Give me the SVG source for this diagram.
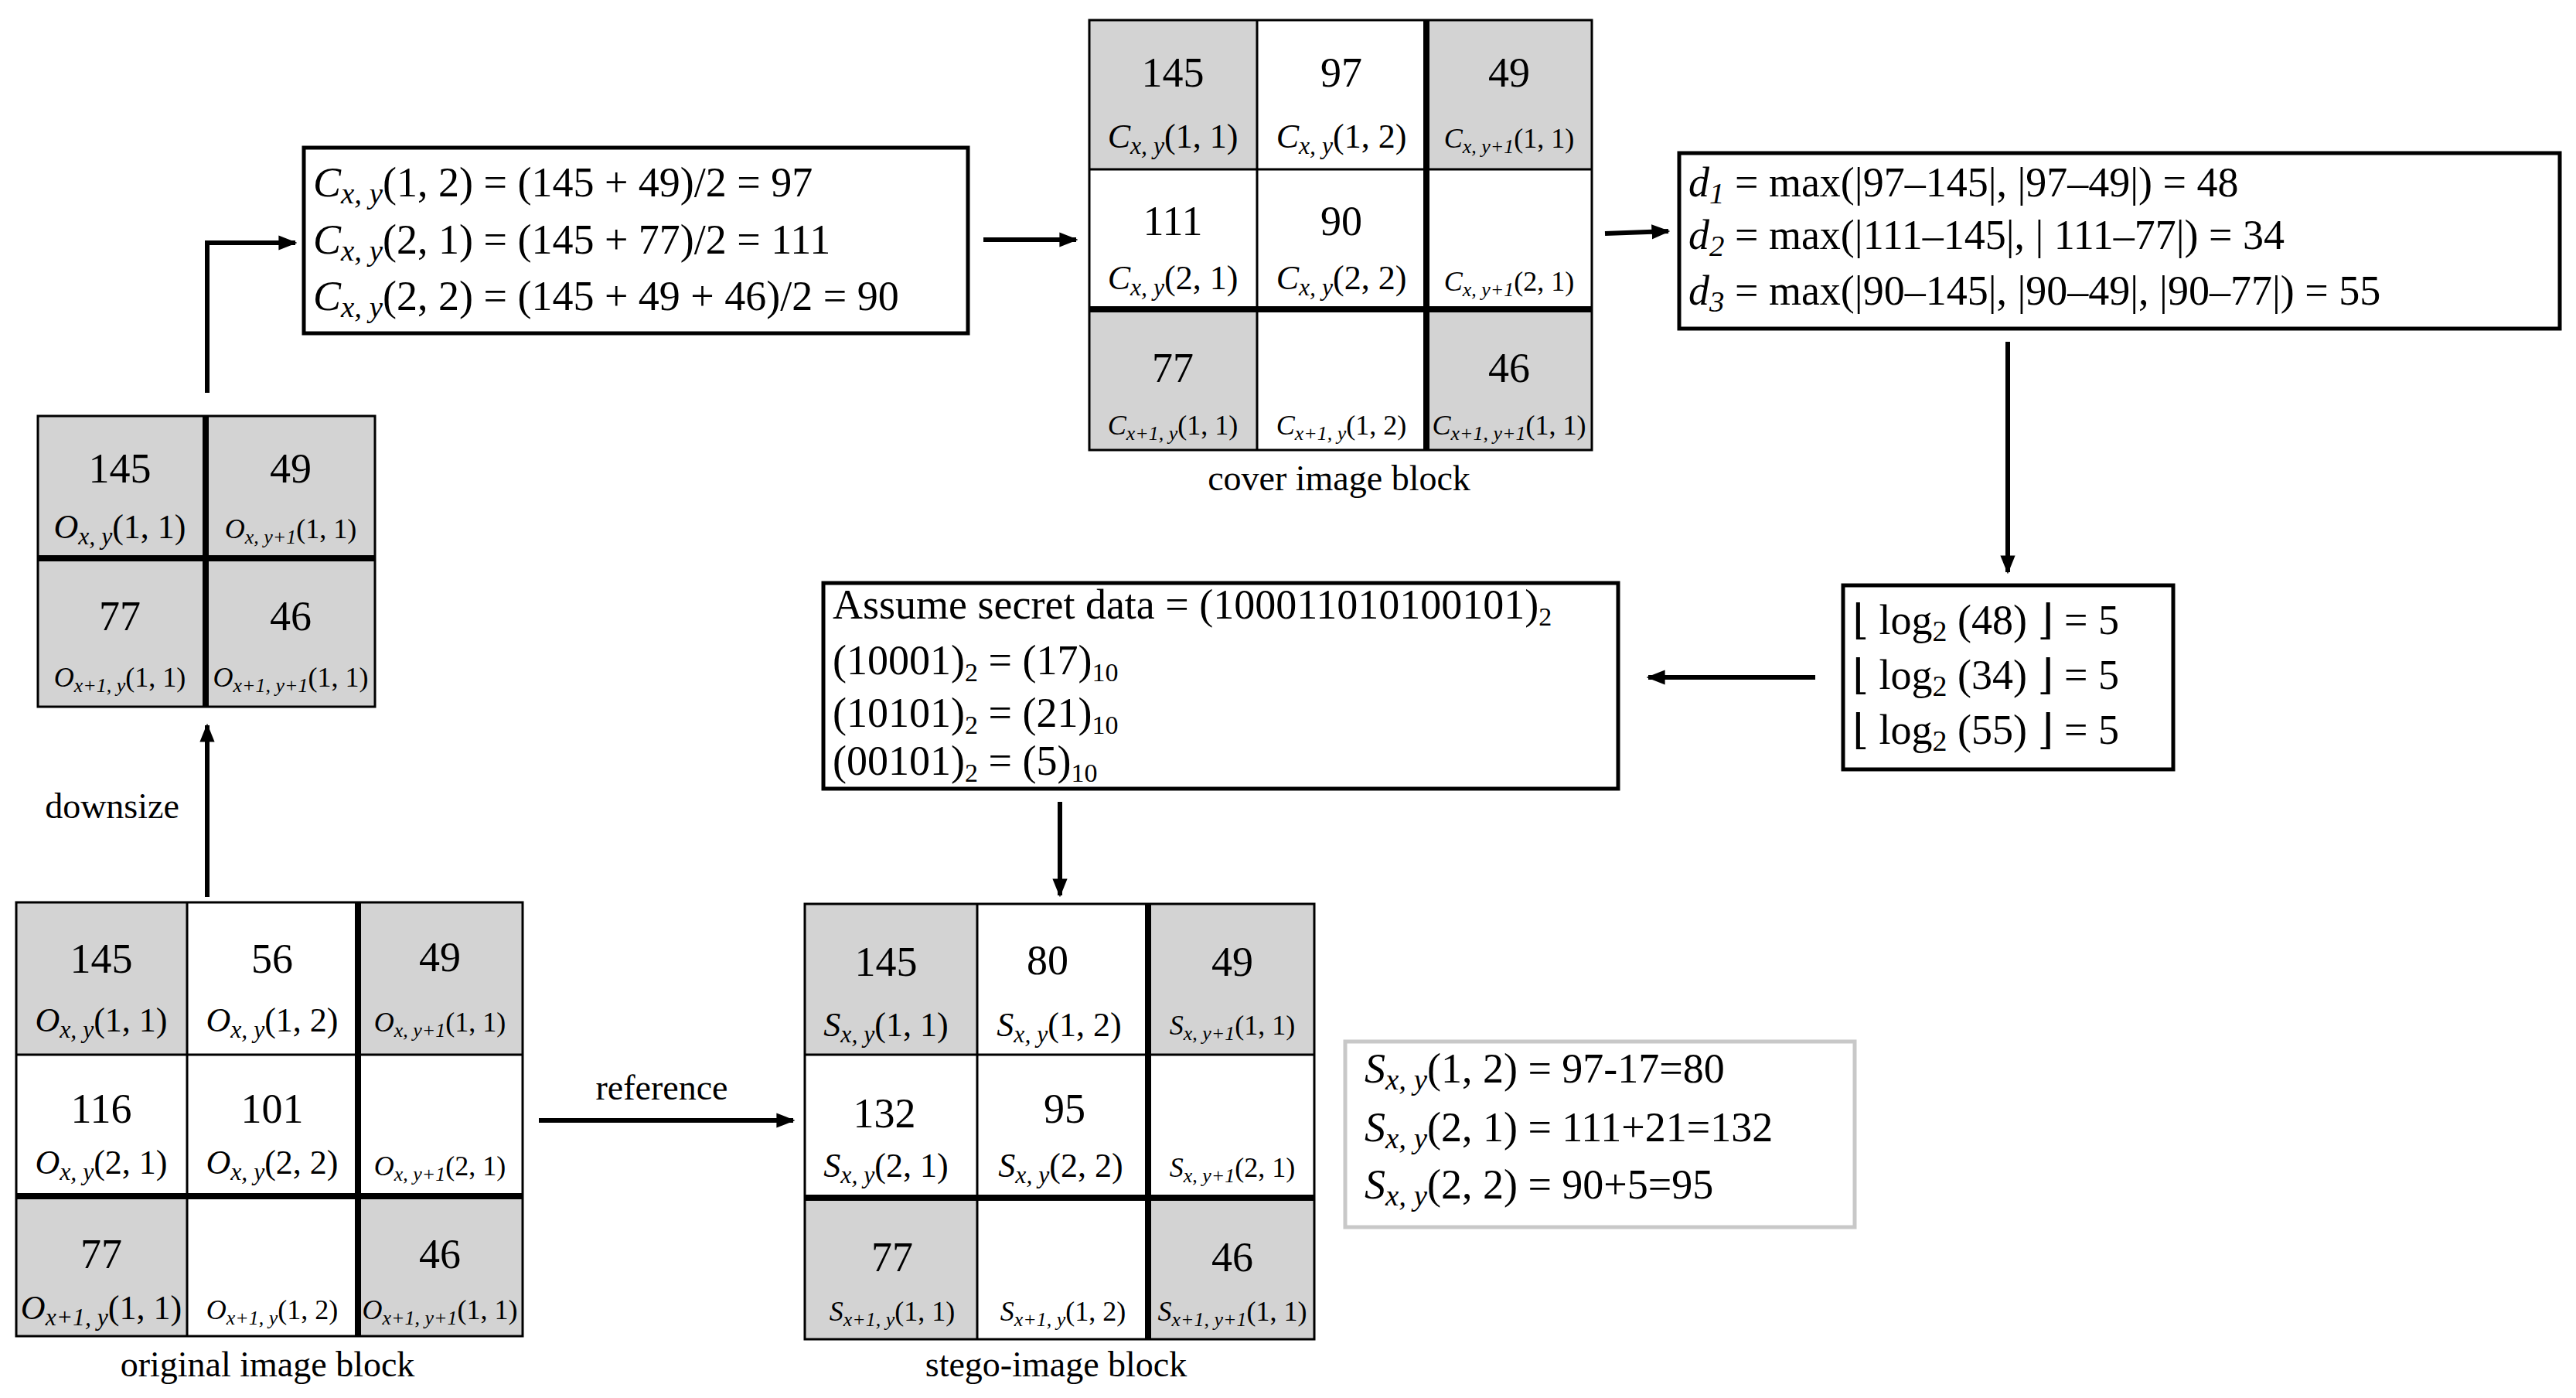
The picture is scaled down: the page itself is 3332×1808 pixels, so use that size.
<svg xmlns="http://www.w3.org/2000/svg" width="3332" height="1808" viewBox="0 0 3332 1808">
<defs>
<marker id="ah" viewBox="0 0 10 10" refX="9" refY="5" markerWidth="4" markerHeight="4" orient="auto" markerUnits="strokeWidth"><path d="M0,1 L10,5 L0,9 z" fill="#000"/></marker>
</defs>
<style>
text{font-family:"Liberation Serif","DejaVu Serif",serif;fill:#000}
.n{font-size:54px;text-anchor:middle}
.l{font-size:44px;text-anchor:middle}
.ls{font-size:36px;text-anchor:middle}
.it{font-style:italic}
.sub{font-size:0.72em;font-style:italic}
.g{fill:#d3d3d3}
.w{fill:#fff}
.thin{stroke:#000;stroke-width:3;fill:none}
.thick{stroke:#000;stroke-width:8}
.box{fill:#fff;stroke:#000;stroke-width:5}
.bt{font-size:54px}
.cap{font-size:46px;text-anchor:middle}
.ar{stroke:#000;stroke-width:6;fill:none;marker-end:url(#ah)}
</style>
<rect width="3332" height="1808" fill="#fff"/>

<g id="small-grid">
<rect x="49" y="538" width="436" height="376" class="g"/>
<rect x="49" y="538" width="436" height="376" class="thin"/>
<line x1="266" y1="538" x2="266" y2="914" class="thick"/>
<line x1="49" y1="722" x2="485" y2="722" class="thick"/>
<text class="n" x="155" y="624">145</text>
<text class="l" x="155" y="696"><tspan class="it">O</tspan><tspan class="sub" dy="8">x, y</tspan><tspan dy="-8">(1, 1)</tspan></text>
<text class="n" x="376" y="624">49</text>
<text class="ls" x="376" y="696"><tspan class="it">O</tspan><tspan class="sub" dy="7">x, y+1</tspan><tspan dy="-7">(1, 1)</tspan></text>
<text class="n" x="155" y="815">77</text>
<text class="ls" x="155" y="888"><tspan class="it">O</tspan><tspan class="sub" dy="7">x+1, y</tspan><tspan dy="-7">(1, 1)</tspan></text>
<text class="n" x="376" y="815">46</text>
<text class="ls" x="376" y="888"><tspan class="it">O</tspan><tspan class="sub" dy="7">x+1, y+1</tspan><tspan dy="-7">(1, 1)</tspan></text>
</g>

<g id="original-grid">
<rect x="21" y="1167" width="221" height="197" class="g"/>
<rect x="242" y="1167" width="221" height="197" class="w"/>
<rect x="463" y="1167" width="213" height="197" class="g"/>
<rect x="21" y="1364" width="655" height="183" class="w"/>
<rect x="21" y="1547" width="221" height="181" class="g"/>
<rect x="242" y="1547" width="221" height="181" class="w"/>
<rect x="463" y="1547" width="213" height="181" class="g"/>
<rect x="21" y="1167" width="655" height="561" class="thin"/>
<line x1="242" y1="1167" x2="242" y2="1728" class="thin"/>
<line x1="21" y1="1364" x2="676" y2="1364" class="thin"/>
<line x1="463" y1="1167" x2="463" y2="1728" class="thick"/>
<line x1="21" y1="1547" x2="676" y2="1547" class="thick"/>
<text class="n" x="131" y="1258">145</text>
<text class="l" x="131" y="1334"><tspan class="it">O</tspan><tspan class="sub" dy="8">x, y</tspan><tspan dy="-8">(1, 1)</tspan></text>
<text class="n" x="352" y="1258">56</text>
<text class="l" x="352" y="1334"><tspan class="it">O</tspan><tspan class="sub" dy="8">x, y</tspan><tspan dy="-8">(1, 2)</tspan></text>
<text class="n" x="569" y="1256">49</text>
<text class="ls" x="569" y="1334"><tspan class="it">O</tspan><tspan class="sub" dy="7">x, y+1</tspan><tspan dy="-7">(1, 1)</tspan></text>
<text class="n" x="131" y="1452">116</text>
<text class="l" x="131" y="1518"><tspan class="it">O</tspan><tspan class="sub" dy="8">x, y</tspan><tspan dy="-8">(2, 1)</tspan></text>
<text class="n" x="352" y="1452">101</text>
<text class="l" x="352" y="1518"><tspan class="it">O</tspan><tspan class="sub" dy="8">x, y</tspan><tspan dy="-8">(2, 2)</tspan></text>
<text class="ls" x="569" y="1520"><tspan class="it">O</tspan><tspan class="sub" dy="7">x, y+1</tspan><tspan dy="-7">(2, 1)</tspan></text>
<text class="n" x="131" y="1640">77</text>
<text class="l" x="131" y="1706"><tspan class="it">O</tspan><tspan class="sub" dy="8">x+1, y</tspan><tspan dy="-8">(1, 1)</tspan></text>
<text class="ls" x="352" y="1706"><tspan class="it">O</tspan><tspan class="sub" dy="7">x+1, y</tspan><tspan dy="-7">(1, 2)</tspan></text>
<text class="n" x="569" y="1640">46</text>
<text class="ls" x="569" y="1706"><tspan class="it">O</tspan><tspan class="sub" dy="7">x+1, y+1</tspan><tspan dy="-7">(1, 1)</tspan></text>
<text class="cap" x="346" y="1780">original image block</text>
</g>

<g id="average-box">
<rect x="393" y="191" width="859" height="240" class="box"/>
<text class="bt" x="405" y="254"><tspan class="it">C</tspan><tspan class="sub" dy="9">x, y</tspan><tspan dy="-9">(1, 2) = (145 + 49)/2 = 97</tspan></text>
<text class="bt" x="405" y="328"><tspan class="it">C</tspan><tspan class="sub" dy="9">x, y</tspan><tspan dy="-9">(2, 1) = (145 + 77)/2 = 111</tspan></text>
<text class="bt" x="405" y="401"><tspan class="it">C</tspan><tspan class="sub" dy="9">x, y</tspan><tspan dy="-9">(2, 2) = (145 + 49 + 46)/2 = 90</tspan></text>
</g>

<g id="cover-grid">
<rect x="1409" y="26" width="217" height="193" class="g"/>
<rect x="1626" y="26" width="219" height="193" class="w"/>
<rect x="1845" y="26" width="214" height="193" class="g"/>
<rect x="1409" y="219" width="650" height="181" class="w"/>
<rect x="1409" y="400" width="217" height="182" class="g"/>
<rect x="1626" y="400" width="219" height="182" class="w"/>
<rect x="1845" y="400" width="214" height="182" class="g"/>
<rect x="1409" y="26" width="650" height="556" class="thin"/>
<line x1="1626" y1="26" x2="1626" y2="582" class="thin"/>
<line x1="1409" y1="219" x2="2059" y2="219" class="thin"/>
<line x1="1845" y1="26" x2="1845" y2="582" class="thick"/>
<line x1="1409" y1="400" x2="2059" y2="400" class="thick"/>
<text class="n" x="1517" y="112">145</text>
<text class="l" x="1517" y="191"><tspan class="it">C</tspan><tspan class="sub" dy="8">x, y</tspan><tspan dy="-8">(1, 1)</tspan></text>
<text class="n" x="1735" y="112">97</text>
<text class="l" x="1735" y="191"><tspan class="it">C</tspan><tspan class="sub" dy="8">x, y</tspan><tspan dy="-8">(1, 2)</tspan></text>
<text class="n" x="1952" y="112">49</text>
<text class="ls" x="1952" y="191"><tspan class="it">C</tspan><tspan class="sub" dy="7">x, y+1</tspan><tspan dy="-7">(1, 1)</tspan></text>
<text class="n" x="1517" y="304">111</text>
<text class="l" x="1517" y="374"><tspan class="it">C</tspan><tspan class="sub" dy="8">x, y</tspan><tspan dy="-8">(2, 1)</tspan></text>
<text class="n" x="1735" y="304">90</text>
<text class="l" x="1735" y="374"><tspan class="it">C</tspan><tspan class="sub" dy="8">x, y</tspan><tspan dy="-8">(2, 2)</tspan></text>
<text class="ls" x="1952" y="376"><tspan class="it">C</tspan><tspan class="sub" dy="7">x, y+1</tspan><tspan dy="-7">(2, 1)</tspan></text>
<text class="n" x="1517" y="494">77</text>
<text class="ls" x="1517" y="562"><tspan class="it">C</tspan><tspan class="sub" dy="7">x+1, y</tspan><tspan dy="-7">(1, 1)</tspan></text>
<text class="ls" x="1735" y="562"><tspan class="it">C</tspan><tspan class="sub" dy="7">x+1, y</tspan><tspan dy="-7">(1, 2)</tspan></text>
<text class="n" x="1952" y="494">46</text>
<text class="ls" x="1952" y="562"><tspan class="it">C</tspan><tspan class="sub" dy="7">x+1, y+1</tspan><tspan dy="-7">(1, 1)</tspan></text>
<text class="cap" x="1732" y="634">cover image block</text>
</g>

<g id="difference-box">
<rect x="2172" y="198" width="1139" height="227" class="box"/>
<text class="bt" x="2184" y="254"><tspan class="it">d</tspan><tspan class="sub" dy="9">1</tspan><tspan dy="-9"> = max(|97–145|, |97–49|) = 48</tspan></text>
<text class="bt" x="2184" y="322"><tspan class="it">d</tspan><tspan class="sub" dy="9">2</tspan><tspan dy="-9"> = max(|111–145|, | 111–77|) = 34</tspan></text>
<text class="bt" x="2184" y="394"><tspan class="it">d</tspan><tspan class="sub" dy="9">3</tspan><tspan dy="-9"> = max(|90–145|, |90–49|, |90–77|) = 55</tspan></text>
</g>

<g id="log-box">
<rect x="2384" y="757" width="427" height="238" class="box"/>
<text class="bt" x="2396" y="820">⌊ log<tspan font-size="38" dy="9">2</tspan><tspan dy="-9"> (48) ⌋ = 5</tspan></text>
<text class="bt" x="2396" y="891">⌊ log<tspan font-size="38" dy="9">2</tspan><tspan dy="-9"> (34) ⌋ = 5</tspan></text>
<text class="bt" x="2396" y="962">⌊ log<tspan font-size="38" dy="9">2</tspan><tspan dy="-9"> (55) ⌋ = 5</tspan></text>
</g>

<g id="secret-box">
<rect x="1065" y="754" width="1028" height="266" class="box"/>
<text class="bt" x="1077" y="800" font-size="50">Assume secret data = (100011010100101)<tspan font-size="34" dy="9">2</tspan></text>
<text class="bt" x="1077" y="872" font-size="50">(10001)<tspan font-size="34" dy="9">2</tspan><tspan dy="-9"> = (17)</tspan><tspan font-size="34" dy="9">10</tspan></text>
<text class="bt" x="1077" y="940" font-size="50">(10101)<tspan font-size="34" dy="9">2</tspan><tspan dy="-9"> = (21)</tspan><tspan font-size="34" dy="9">10</tspan></text>
<text class="bt" x="1077" y="1002" font-size="50">(00101)<tspan font-size="34" dy="9">2</tspan><tspan dy="-9"> = (5)</tspan><tspan font-size="34" dy="9">10</tspan></text>
</g>

<g id="stego-grid">
<rect x="1041" y="1169" width="223" height="195" class="g"/>
<rect x="1264" y="1169" width="221" height="195" class="w"/>
<rect x="1485" y="1169" width="215" height="195" class="g"/>
<rect x="1041" y="1364" width="659" height="185" class="w"/>
<rect x="1041" y="1549" width="223" height="183" class="g"/>
<rect x="1264" y="1549" width="221" height="183" class="w"/>
<rect x="1485" y="1549" width="215" height="183" class="g"/>
<rect x="1041" y="1169" width="659" height="563" class="thin"/>
<line x1="1264" y1="1169" x2="1264" y2="1732" class="thin"/>
<line x1="1041" y1="1364" x2="1700" y2="1364" class="thin"/>
<line x1="1485" y1="1169" x2="1485" y2="1732" class="thick"/>
<line x1="1041" y1="1549" x2="1700" y2="1549" class="thick"/>
<text class="n" x="1146" y="1262">145</text>
<text class="l" x="1146" y="1340"><tspan class="it">S</tspan><tspan class="sub" dy="8">x, y</tspan><tspan dy="-8">(1, 1)</tspan></text>
<text class="n" x="1355" y="1260">80</text>
<text class="l" x="1370" y="1340"><tspan class="it">S</tspan><tspan class="sub" dy="8">x, y</tspan><tspan dy="-8">(1, 2)</tspan></text>
<text class="n" x="1594" y="1262">49</text>
<text class="ls" x="1594" y="1338"><tspan class="it">S</tspan><tspan class="sub" dy="7">x, y+1</tspan><tspan dy="-7">(1, 1)</tspan></text>
<text class="n" x="1144" y="1458">132</text>
<text class="l" x="1146" y="1522"><tspan class="it">S</tspan><tspan class="sub" dy="8">x, y</tspan><tspan dy="-8">(2, 1)</tspan></text>
<text class="n" x="1377" y="1452">95</text>
<text class="l" x="1372" y="1522"><tspan class="it">S</tspan><tspan class="sub" dy="8">x, y</tspan><tspan dy="-8">(2, 2)</tspan></text>
<text class="ls" x="1594" y="1522"><tspan class="it">S</tspan><tspan class="sub" dy="7">x, y+1</tspan><tspan dy="-7">(2, 1)</tspan></text>
<text class="n" x="1154" y="1644">77</text>
<text class="ls" x="1154" y="1708"><tspan class="it">S</tspan><tspan class="sub" dy="7">x+1, y</tspan><tspan dy="-7">(1, 1)</tspan></text>
<text class="ls" x="1375" y="1708"><tspan class="it">S</tspan><tspan class="sub" dy="7">x+1, y</tspan><tspan dy="-7">(1, 2)</tspan></text>
<text class="n" x="1594" y="1644">46</text>
<text class="ls" x="1594" y="1708"><tspan class="it">S</tspan><tspan class="sub" dy="7">x+1, y+1</tspan><tspan dy="-7">(1, 1)</tspan></text>
<text class="cap" x="1366" y="1780">stego-image block</text>
</g>

<g id="stego-formula-box">
<rect x="1740" y="1347" width="659" height="240" fill="#fff" stroke="#c8c8c8" stroke-width="5"/>
<text class="bt" x="1765" y="1400"><tspan class="it">S</tspan><tspan class="sub" dy="9">x, y</tspan><tspan dy="-9">(1, 2) = 97-17=80</tspan></text>
<text class="bt" x="1765" y="1476"><tspan class="it">S</tspan><tspan class="sub" dy="9">x, y</tspan><tspan dy="-9">(2, 1) = 111+21=132</tspan></text>
<text class="bt" x="1765" y="1550"><tspan class="it">S</tspan><tspan class="sub" dy="9">x, y</tspan><tspan dy="-9">(2, 2) = 90+5=95</tspan></text>
</g>

<g id="connectors">
<line x1="268" y1="1160" x2="268" y2="938" class="ar"/>
<text class="cap" x="145" y="1058">downsize</text>
<polyline points="268,508 268,314 382,314" class="ar"/>
<line x1="1272" y1="310" x2="1392" y2="310" class="ar"/>
<line x1="2076" y1="302" x2="2158" y2="299" class="ar"/>
<line x1="2597" y1="442" x2="2597" y2="740" class="ar"/>
<line x1="2348" y1="876" x2="2132" y2="876" class="ar"/>
<line x1="1371" y1="1037" x2="1371" y2="1158" class="ar"/>
<line x1="697" y1="1449" x2="1026" y2="1449" class="ar"/>
<text class="cap" x="856" y="1422">reference</text>
</g>
</svg>
